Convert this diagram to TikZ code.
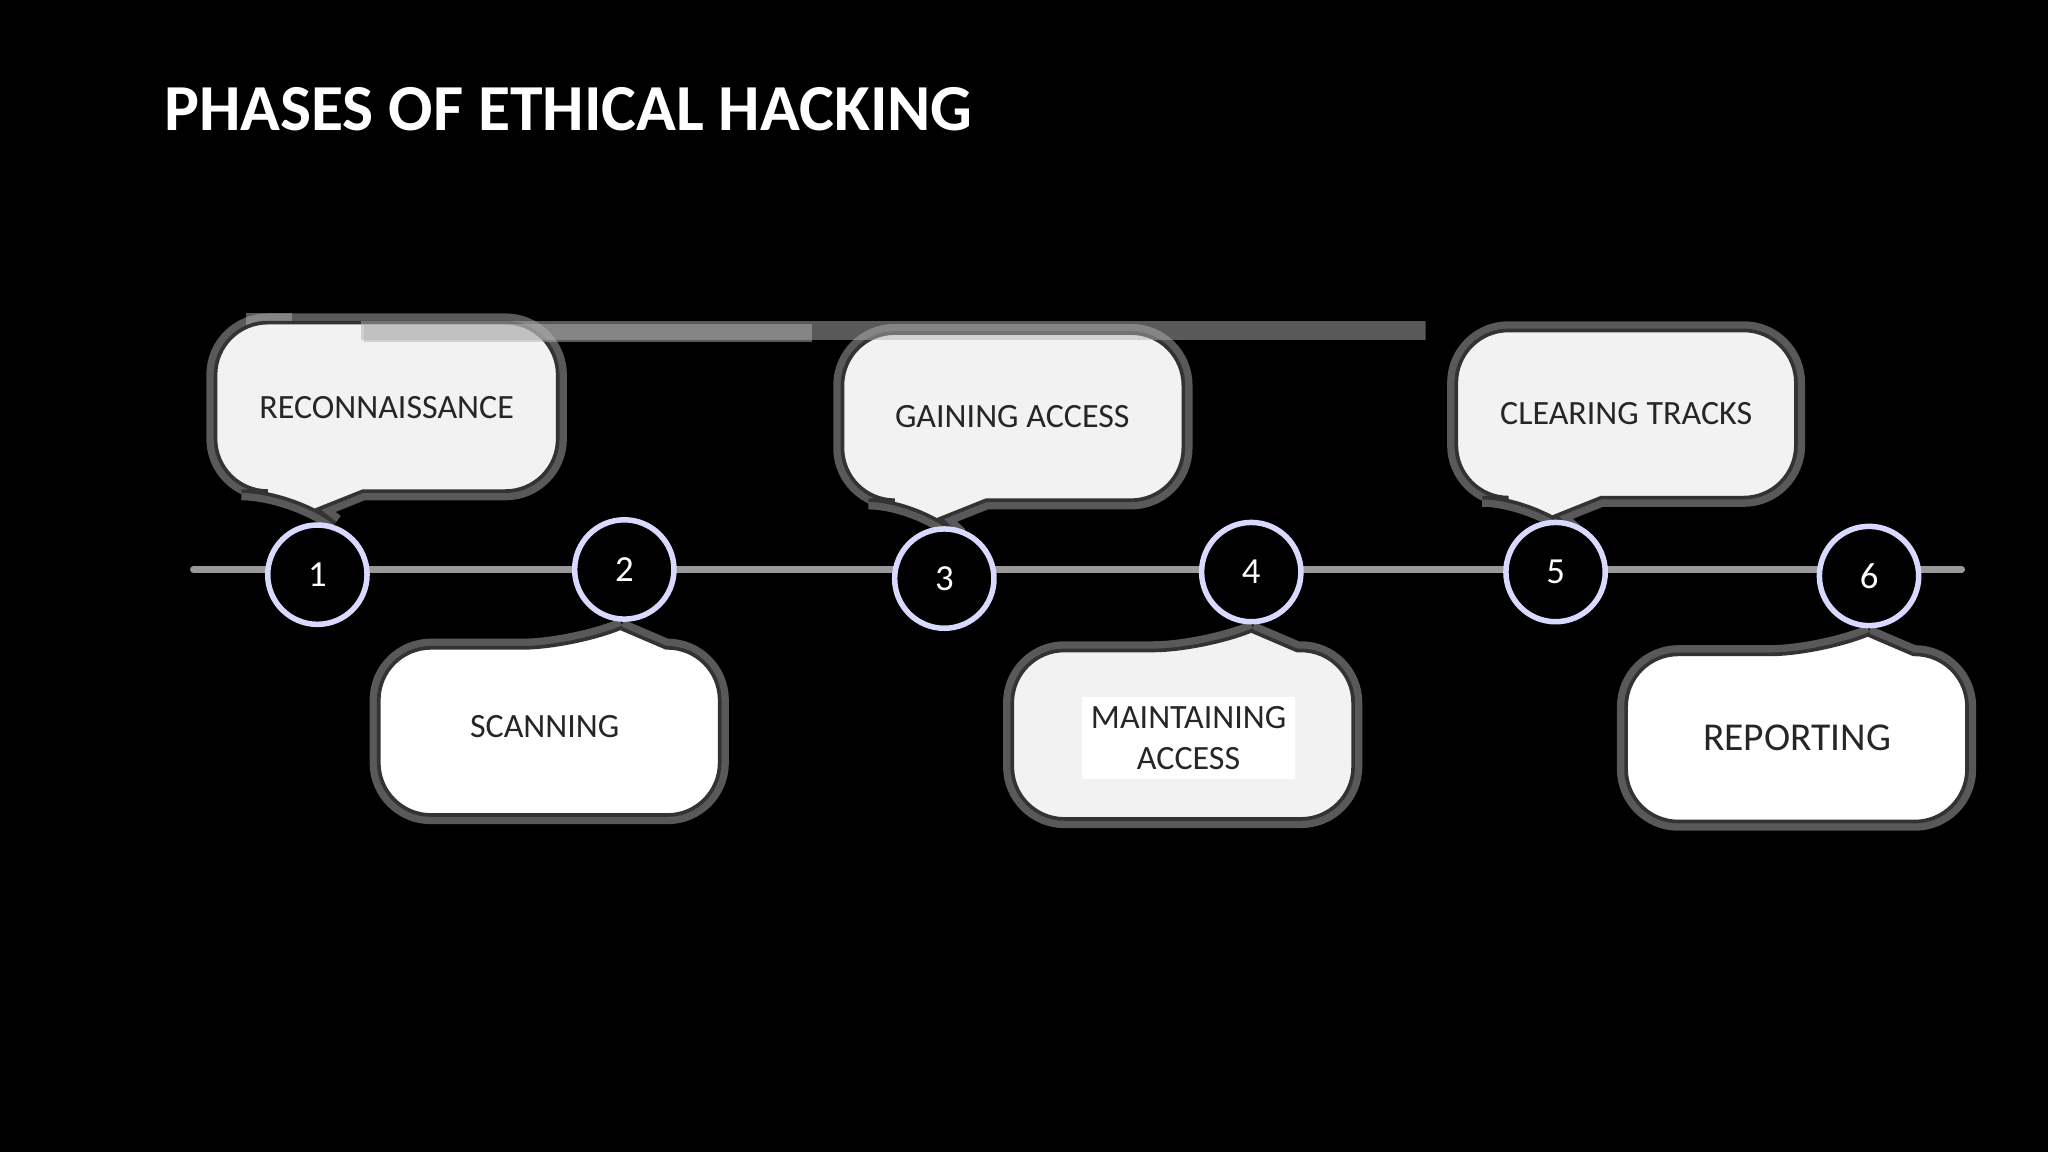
\documentclass[tikz,border=0pt]{standalone}
\usepackage{fontspec}
\setmainfont{Carlito}
\begin{document}
\begin{tikzpicture}[x=0.01cm,y=-0.01cm,
  num/.style={circle,draw=white!85!blue,line width=1.2pt,fill=black,minimum size=0.76cm,text=white,font=\fontsize{8}{9}\selectfont,inner sep=0pt},
  lbl/.style={text=black!85,font=\fontsize{7.4}{9}\selectfont,align=center},
  glow/.style={draw=gray!60,line width=4pt,opacity=0.5,rounded corners=4mm},
  boxline/.style={draw=black!80,line width=0.8pt,rounded corners=4mm}]
\useasboundingbox[fill=black] (0,0) rectangle (1568,882);
\node[anchor=base west,text=white,font=\bfseries\fontsize{14.3}{16}\selectfont,inner sep=0pt] (title) at (125,100) {PHASES OF ETHICAL HACKING};
\coordinate (ls) at (148,436); \coordinate (le) at (1502,436);
\draw[gray!80,line width=1.4pt,line cap=round] (ls) -- (le);
% down callout: x1,y1,x2,y2,tipx,tipy,fill
\newcommand\downcall[7]{%
  \path[glow] (#1,#2) -- (#2+0,#2) -- cycle;
  \foreach \st in {glow,boxline}{\path[\st,fill=#7] (#1+60,#4) [sharp corners]-- (#5,#6) -- (#5+35,#4) [rounded corners=4mm]-- (#3,#4) -- (#3,#2) -- (#1,#2) -- (#1,#4) -- cycle;}}
\newcommand\upcall[7]{%
  \foreach \st in {glow,boxline}{\path[\st,fill=#7] (#5-35,#2) [sharp corners]-- (#5,#6) -- (#5+35,#2) [rounded corners=4mm]-- (#3,#2) -- (#3,#4) -- (#1,#4) -- (#1,#2) -- cycle;}}
\downcall{165}{247}{427}{376}{243}{390}{black!5}
\upcall{290}{496}{551}{624}{475}{481}{white}
\downcall{645}{255}{906}{383}{720}{397}{black!5}
\upcall{775}{498}{1036}{627}{958}{483}{black!5}
\downcall{1115}{253}{1375}{381}{1191}{395}{black!5}
\upcall{1245}{501}{1506}{629}{1430}{486}{white}
\node[lbl] (t1) at (296,312) {RECONNAISSANCE};
\node[lbl] (t2) at (417,556) {SCANNING};
\node[lbl] (t3) at (775,319) {GAINING ACCESS};
\node[lbl,fill=white,inner sep=2pt] (t4) at (910,565) {MAINTAINING\\ACCESS};
\node[lbl] (t5) at (1245,317) {CLEARING TRACKS};
\node[lbl,font=\fontsize{8.6}{10}\selectfont] (t6) at (1376,565) {REPORTING};
\node[num] (n1) at (243,440) {1};
\node[num] (n2) at (478,436) {2};
\node[num] (n3) at (723,443) {3};
\node[num] (n4) at (958,438) {4};
\node[num] (n5) at (1191,438) {5};
\node[num] (n6) at (1431,441) {6};
\end{tikzpicture}
\end{document}
